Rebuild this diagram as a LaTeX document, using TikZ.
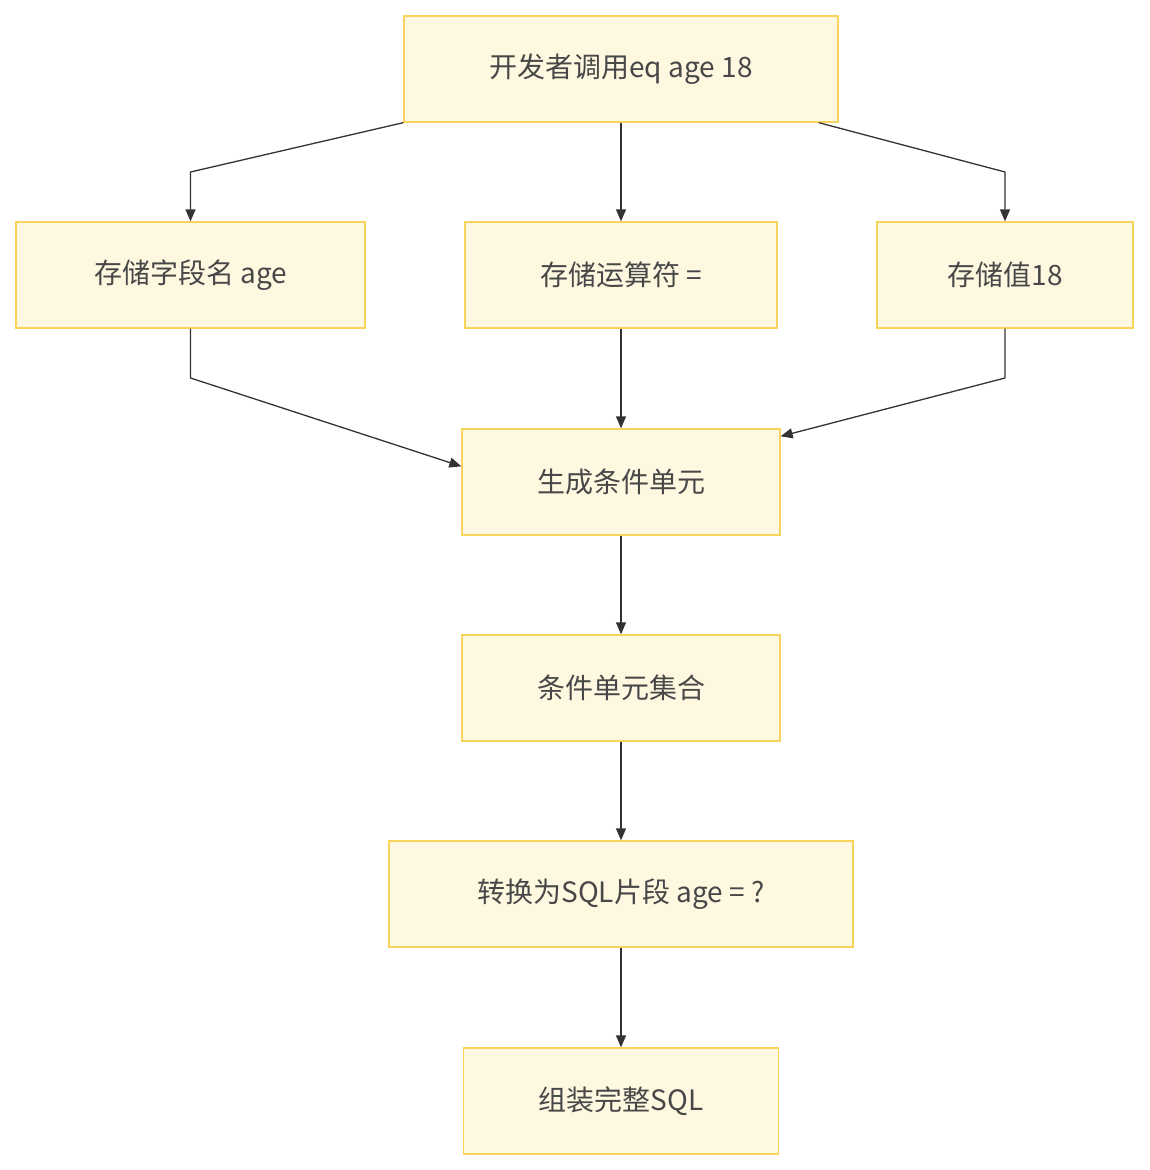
\documentclass[tikz,border=0pt]{standalone}
\usepackage{fontspec}
\newfontfamily\cjk{Noto Sans CJK SC}
\usetikzlibrary{arrows.meta}
\definecolor{boxfill}{HTML}{FFF8E1}
\definecolor{boxline}{HTML}{F9D45C}
\definecolor{edge}{HTML}{333333}
\begin{document}
\begin{tikzpicture}[x=1pt,y=-1pt,
 box/.style={draw=boxline,fill=boxfill,line width=1.3pt,inner sep=0pt,font=\cjk\fontsize{28}{34}\selectfont,text=edge!90},
 arr/.style={draw=edge,line width=1.3pt,-{Triangle[length=12pt,width=10pt]}}]
\useasboundingbox (0,0) rectangle (1150,1170);
\node[box,minimum width=434pt,minimum height=106pt] (top) at (621,69) {开发者调用eq age 18};
\node[box,minimum width=349pt,minimum height=106pt] (a) at (190.5,275) {存储字段名 age};
\node[box,minimum width=312pt,minimum height=106pt] (b) at (621,275) {存储运算符 =};
\node[box,minimum width=256pt,minimum height=106pt] (c) at (1005,275) {存储值18};
\node[box,minimum width=318pt,minimum height=106pt] (d) at (621,482) {生成条件单元};
\node[box,minimum width=318pt,minimum height=106pt] (e) at (621,688) {条件单元集合};
\node[box,minimum width=464pt,minimum height=106pt] (f) at (621,894) {转换为SQL片段 age = ?};
\node[box,minimum width=315pt,minimum height=106pt] (g) at (621,1101) {组装完整SQL};
\draw[arr] (top.south west) -- (190.5,172) -- (a.north);
\draw[arr] (top.south) -- (b.north);
\draw[arr] ([xshift=-20pt]top.south east) -- (1005,172) -- (c.north);
\draw[arr] (a.south) -- (190.5,378) -- ([yshift=-38pt]d.north west);
\draw[arr] (b.south) -- (d.north);
\draw[arr] (c.south) -- (1005,378) -- ([yshift=-8pt]d.north east);
\draw[arr] (d.south) -- (e.north);
\draw[arr] (e.south) -- (f.north);
\draw[arr] (f.south) -- (g.north);
\end{tikzpicture}
\end{document}
